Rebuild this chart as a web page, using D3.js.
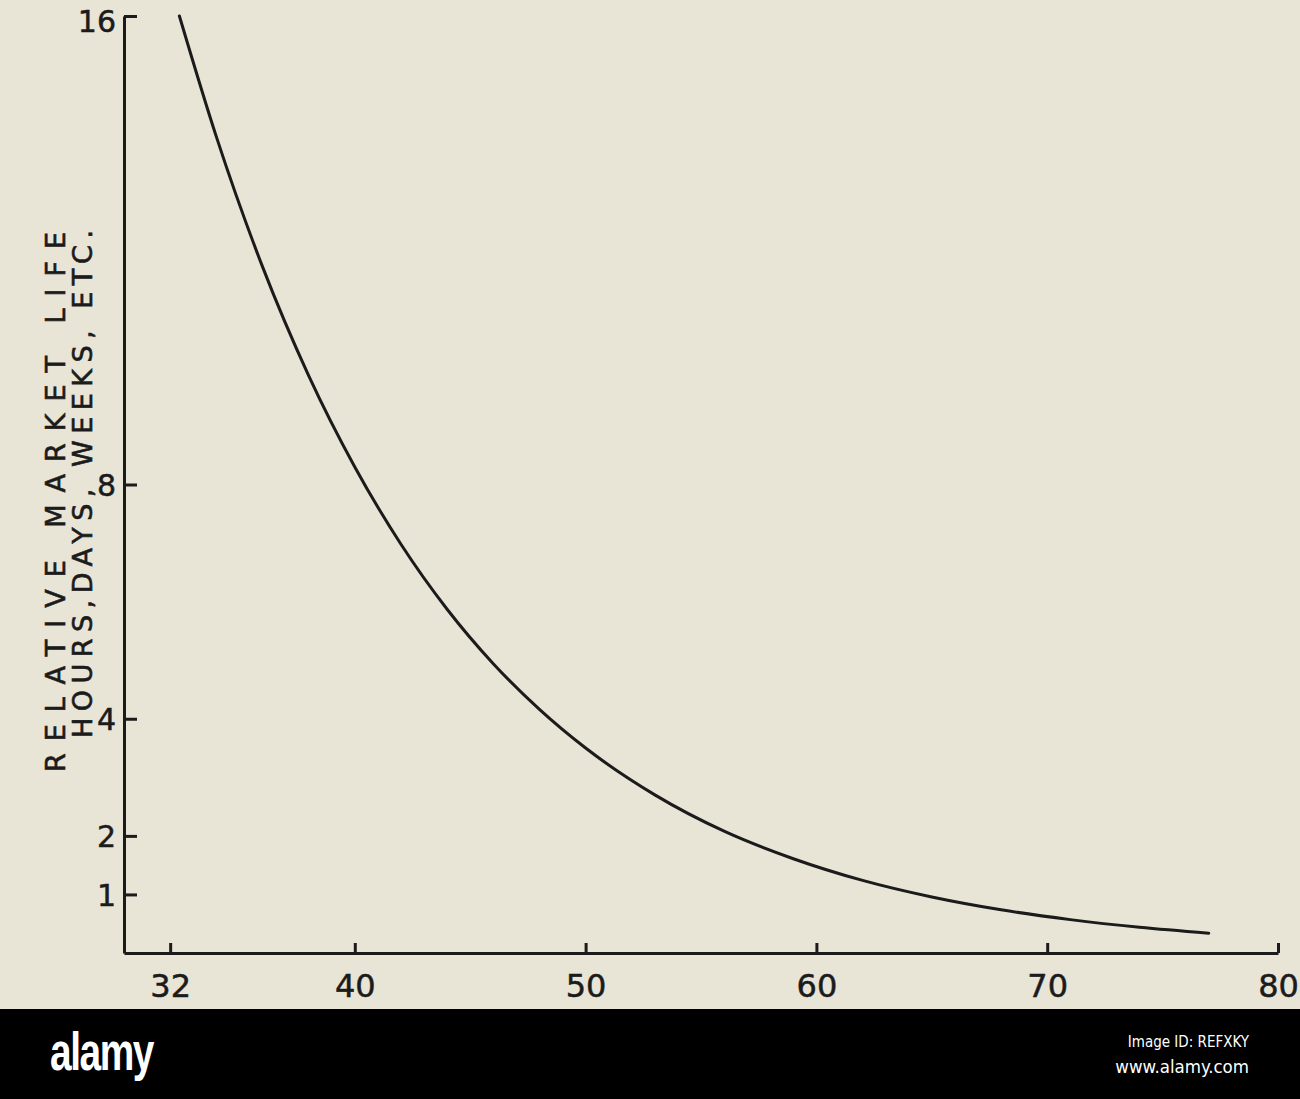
<!DOCTYPE html>
<html>
<head>
<meta charset="utf-8">
<script src="https://cdn.jsdelivr.net/npm/d3@7"></script>
<style>
  html, body { margin: 0; padding: 0; background: #e8e4d6; }
  svg { display: block; }
</style>
</head>
<body>
<svg id="chart" width="1300" height="1099"></svg>
<script>
// ---- data ----
const temperature = [32.4, 34, 36, 38, 40, 42, 44, 46, 48, 50, 53, 56, 59, 62, 65, 68, 71, 74, 77];
const marketLife  = [16.0, 13.94, 11.72, 9.86, 8.30, 6.98, 5.87, 4.94, 4.16, 3.50, 2.70, 2.08, 1.61, 1.24, 0.957, 0.738, 0.570, 0.439, 0.339];
const xTickValues = [32, 40, 50, 60, 70, 80];
const yTickValues = [1, 2, 4, 8, 16];
const yLabelLines = ["RELATIVE MARKET LIFE", "HOURS,DAYS, WEEKS, ETC."];

const ink = "#1b1b1b";
const svg = d3.select("#chart");

svg.append("rect").attr("x", 0).attr("y", 0).attr("width", 1300).attr("height", 1099).attr("fill", "#e8e4d6");

const x = d3.scaleLinear().domain([30, 80]).range([124, 1278]);
const y = d3.scaleLinear().domain([0, 16]).range([953, 16]);

const font = "'DejaVu Sans', 'Liberation Sans', sans-serif";

// x axis
const gx = svg.append("g").attr("transform", `translate(0,${y(0)})`)
  .call(d3.axisBottom(x).tickValues(xTickValues).tickSizeInner(-10).tickSizeOuter(0).tickPadding(21).tickFormat(d3.format("d")));
// y axis
const gy = svg.append("g").attr("transform", `translate(${x(30)},0)`)
  .call(d3.axisLeft(y).tickValues(yTickValues).tickSizeInner(-13).tickSizeOuter(0).tickPadding(8).tickFormat(d3.format("d")));

[gx, gy].forEach(g => {
  g.select(".domain").attr("stroke", ink).attr("stroke-width", 3);
  g.selectAll(".tick line").attr("stroke", ink).attr("stroke-width", 3);
  g.selectAll(".tick text").attr("fill", ink).attr("stroke", ink).attr("stroke-width", 0.5)
    .style("font-family", font).style("font-size", "32px");
});
gy.selectAll(".tick text").style("font-size", "30px").attr("dy", "0.36em");
gy.selectAll(".tick text").filter(d => d === 16).attr("dy", "0.5em");

// curve
const pts = temperature.map((t, i) => [t, marketLife[i]]);
svg.append("path")
  .datum(pts)
  .attr("fill", "none")
  .attr("stroke", ink)
  .attr("stroke-width", 3)
  .attr("stroke-linecap", "round")
  .attr("d", d3.line().x(d => x(d[0])).y(d => y(d[1])).curve(d3.curveMonotoneX));

// y-axis title (two rotated lines)
const titleX = [55, 82];
const titleCY = [502, 484];
const titleLen = [540, 508];
yLabelLines.forEach((txt, i) => {
  svg.append("text")
    .attr("transform", `translate(${titleX[i]},${titleCY[i]}) rotate(-90)`)
    .attr("text-anchor", "middle")
    .attr("dy", "0.36em")
    .attr("textLength", titleLen[i])
    .attr("lengthAdjust", "spacing")
    .attr("fill", ink)
    .attr("stroke", ink)
    .attr("stroke-width", 0.6)
    .style("font-family", font)
    .style("font-size", "27px")
    .text(txt);
});

// bottom banner
svg.append("rect").attr("x", 0).attr("y", 1009).attr("width", 1300).attr("height", 90).attr("fill", "#000");
svg.append("text")
  .attr("transform", "translate(50,1070) scale(0.72,1)")
  .attr("fill", "#fff")
  .style("font-family", "'Liberation Sans', Arial, sans-serif")
  .style("font-weight", "bold")
  .style("font-size", "54px")
  .style("letter-spacing", "-2px")
  .text("alamy");
svg.append("text")
  .attr("x", 1249).attr("y", 1047)
  .attr("text-anchor", "end")
  .attr("fill", "#fff")
  .style("font-family", "'DejaVu Sans Condensed', 'DejaVu Sans', sans-serif")
  .style("font-size", "15px")
  .text("Image ID: REFXKY");
svg.append("text")
  .attr("x", 1249).attr("y", 1073)
  .attr("text-anchor", "end")
  .attr("fill", "#fff")
  .style("font-family", "'DejaVu Sans Condensed', 'DejaVu Sans', sans-serif")
  .style("font-size", "18.5px")
  .text("www.alamy.com");
</script>
</body>
</html>
